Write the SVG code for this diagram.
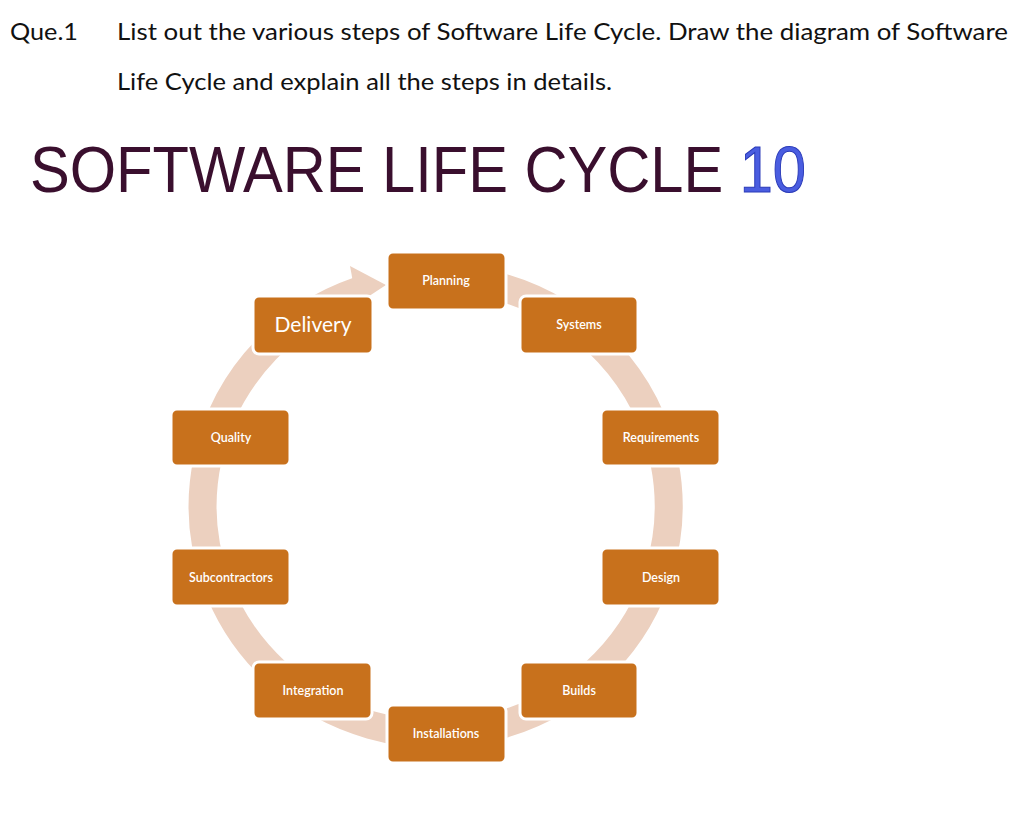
<svg xmlns="http://www.w3.org/2000/svg" width="1024" height="823" viewBox="0 0 1024 823">
<style>
.h{font-family:Lato,"Open Sans",sans-serif;font-size:23px;fill:#111}
.b{fill:#c8711c;stroke:#fff;stroke-width:3}
.t{font-family:Lato,"Open Sans",sans-serif;font-size:12.5px;fill:#fff;text-anchor:middle;font-weight:600}
</style>
<rect width="1024" height="823" fill="#fff"/>
<text class="h" x="10" y="40" textLength="68" lengthAdjust="spacingAndGlyphs">Que.1</text>
<text class="h" x="117" y="40" textLength="891" lengthAdjust="spacingAndGlyphs">List out the various steps of Software Life Cycle. Draw the diagram of Software</text>
<text class="h" x="117" y="90" textLength="495" lengthAdjust="spacingAndGlyphs">Life Cycle and explain all the steps in details.</text>
<text x="30" y="192" font-family="Liberation Sans,Arial,sans-serif" font-size="64" fill="#3a0f2e" textLength="776" lengthAdjust="spacingAndGlyphs">SOFTWARE LIFE CYCLE <tspan fill="#4a5de0" stroke="#2a3ab8" stroke-width="1">10</tspan></text>
<g id="connectors">
<path d="M 358 291 A 233 228 0 1 0 392 282" fill="none" stroke="#ecd0bf" stroke-width="28"/>
<polygon points="350,266 386,285 357,304" fill="#ecd0bf"/>
</g>
<g id="planning"><rect class="b" x="387" y="252" width="119" height="58" rx="6"/><text class="t" x="446" y="285">Planning</text></g>
<g id="systems"><rect class="b" x="520" y="296" width="118" height="58" rx="6"/><text class="t" x="579" y="329">Systems</text></g>
<g id="delivery"><rect class="b" x="253" y="296" width="120" height="58" rx="6"/><text x="313" y="332" font-family="Lato,'Open Sans',sans-serif" font-size="21" fill="#fff" text-anchor="middle">Delivery</text></g>
<g id="quality"><rect class="b" x="171" y="409" width="119" height="57" rx="6"/><text class="t" x="231" y="442">Quality</text></g>
<g id="requirements"><rect class="b" x="601" y="409" width="119" height="57" rx="6"/><text class="t" x="661" y="442">Requirements</text></g>
<g id="subcontractors"><rect class="b" x="171" y="548" width="119" height="58" rx="6"/><text class="t" x="231" y="582">Subcontractors</text></g>
<g id="design"><rect class="b" x="601" y="548" width="119" height="58" rx="6"/><text class="t" x="661" y="582">Design</text></g>
<g id="integration"><rect class="b" x="253" y="662" width="119" height="57" rx="6"/><text class="t" x="313" y="695">Integration</text></g>
<g id="builds"><rect class="b" x="520" y="662" width="118" height="57" rx="6"/><text class="t" x="579" y="695">Builds</text></g>
<g id="installations"><rect class="b" x="387" y="705" width="119" height="58" rx="6"/><text class="t" x="446" y="738">Installations</text></g>
</svg>
